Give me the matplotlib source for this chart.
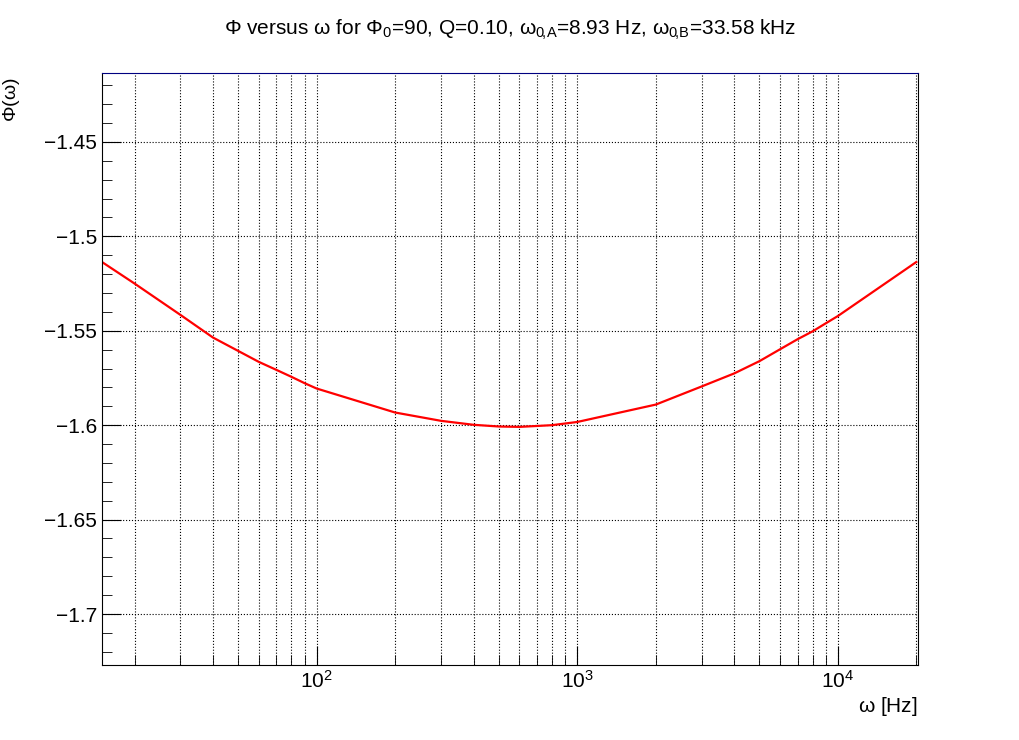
import matplotlib
matplotlib.use("Agg")
import matplotlib.pyplot as plt
from matplotlib.ticker import LogLocator, MultipleLocator, NullFormatter, FuncFormatter

plt.rcParams['font.family'] = ['Liberation Sans', 'DejaVu Sans']
plt.rcParams['mathtext.fontset'] = 'custom'
plt.rcParams['mathtext.rm'] = 'Liberation Sans'
plt.rcParams['mathtext.it'] = 'Liberation Sans'

freq = [15, 20, 30, 40, 50, 60, 70, 80, 90, 100, 200, 300, 400, 500, 600, 800,
        1000, 2000, 3000, 4000, 5000, 6000, 7000, 8000, 9000, 10000, 20000]
phi = [-1.5136, -1.525, -1.5416, -1.5536, -1.5607, -1.5665, -1.5707, -1.5744, -1.5778,
       -1.5806, -1.5933, -1.5977, -1.5998, -1.6007, -1.6009, -1.6, -1.5983, -1.5891,
       -1.5795, -1.5726, -1.5661, -1.5598, -1.5545, -1.5503, -1.546, -1.5422, -1.5136]

fig = plt.figure(figsize=(10.2, 7.4), dpi=100)
ax = fig.add_axes([102/1020, 1-665/740, 816/1020, 592/740])
ax.plot(freq, phi, color='red', lw=1.6)
ax.set_xscale('log')
ax.set_xlim(15, 20300)
ax.set_ylim(-1.727, -1.4135)

ax.xaxis.set_major_locator(LogLocator(base=10))
ax.xaxis.set_minor_locator(LogLocator(base=10, subs=range(2, 10)))
ax.xaxis.set_minor_formatter(NullFormatter())
ax.yaxis.set_major_locator(MultipleLocator(0.05))
ax.yaxis.set_minor_locator(MultipleLocator(0.01))
ax.yaxis.set_major_formatter(FuncFormatter(lambda v, p: ('%g' % round(v, 3)).replace('-', '\u2212')))

ax.tick_params(which='both', direction='in', top=False, right=False, labelsize=15)
ax.tick_params(which='major', length=14)
ax.tick_params(which='minor', length=7)
ax.grid(True, which='major', ls=':', color='black', lw=0.8)
ax.grid(True, which='minor', axis='x', ls=':', color='black', lw=0.8)
for s in ax.spines.values():
    s.set_linewidth(0.8)
ax.spines['top'].set_color('navy')

fig.text(918/1020, 1-706/740, r'$\omega$ [Hz]', ha='right', va='center', fontsize=15)
fig.text(12/1020, 1-100/740, r'$\Phi(\omega)$', rotation=90, ha='center', va='center', fontsize=14)
fig.text(0.5, 1-30/740,
         r'$\Phi$ versus $\omega$ for $\Phi_{0}$=90, Q=0.10, $\omega_{0\!,\!A}$=8.93 Hz, $\omega_{0\!,\!B}$=33.58 kHz',
         ha='center', va='center', fontsize=15)
fig.savefig('out.png', dpi=100)
